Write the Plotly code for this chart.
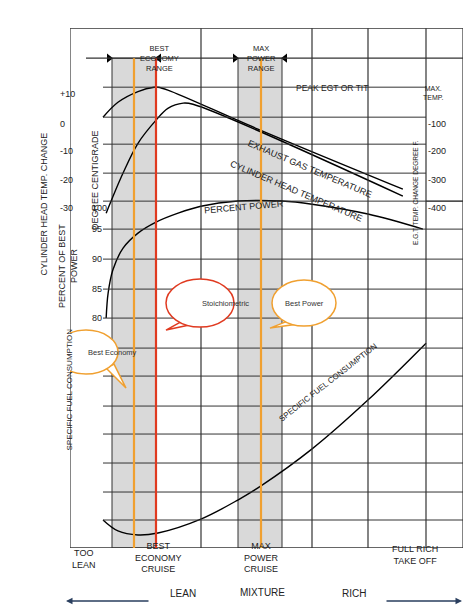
import plotly.graph_objects as go

# Mixture axis: 0 = too lean, 100 = full rich. Vertical axis: grid rows (0 bottom .. 18 top)
egt_x = [8.4, 12.2, 17.3, 21.4, 22.4, 24.9, 47.8, 84.7]
egt_y = [14.91, 15.43, 15.80, 15.95, 15.95, 15.85, 14.50, 12.42]
cht_x = [9.2, 13.5, 17.3, 21.9, 24.9, 28.8, 31.3, 84.7]
cht_y = [11.59, 12.98, 14.01, 14.81, 15.22, 15.40, 15.36, 12.18]
pwr_x = [9.2, 9.7, 10.9, 13.5, 17.3, 21.9, 27.5, 33.3, 42.7, 53.9, 61.6, 75.8, 89.8]
pwr_y = [7.96, 8.82, 9.62, 10.38, 10.90, 11.28, 11.59, 11.83, 12.01, 12.01, 11.90, 11.56, 11.04]
sfc_x = [8.4, 12.2, 17.3, 22.4, 33.3, 42.7, 48.6, 61.6, 75.8, 90.6]
sfc_y = [0.97, 0.59, 0.45, 0.52, 1.00, 1.66, 2.15, 3.43, 5.12, 7.09]

cht_ticks = ["+10", "0", "-10", "-20", "-30"]
pwr_ticks = ["100", "95", "90", "85", "80"]
egt_ticks = ["-100", "-200", "-300", "-400"]


def X(px):
    return (px - 62) / 3.93


def Y(py):
    return (540 - py) / 28.9


def PX(px):
    return (px - 62) / 393


def PY(py):
    return (540 - py) / 520


GRID = "#333333"
fig = go.Figure()

# shaded ranges
for a, b in [(104, 148), (230, 274)]:
    fig.add_shape(type="rect", x0=X(a), x1=X(b), y0=0, y1=Y(50),
                  fillcolor="#d9d9d9", line=dict(color=GRID, width=1), layer="below")

# vertical grid
for px in [62, 193, 304, 360, 418, 455]:
    fig.add_shape(type="line", x0=X(px), x1=X(px), y0=0, y1=Y(20), line=dict(color=GRID, width=1.2))
# horizontal grid
rows = [79, 109, 136, 165, 193, 221, 251, 281, 310, 340, 368, 398, 426, 455, 484, 512]
for py in rows:
    x1 = X(418) if py < 193 else X(455)
    fig.add_shape(type="line", x0=X(95), x1=x1, y0=Y(py), y1=Y(py), line=dict(color=GRID, width=1))
fig.add_shape(type="line", x0=X(418), x1=X(455), y0=Y(193), y1=Y(193), line=dict(color=GRID, width=1))
fig.add_shape(type="line", x0=X(62), x1=X(455), y0=Y(20), y1=Y(20), line=dict(color=GRID, width=1.2))
fig.add_shape(type="line", x0=X(62), x1=X(455), y0=0, y1=0, line=dict(color=GRID, width=1.5))
fig.add_shape(type="line", x0=X(78), x1=X(455), y0=Y(50), y1=Y(50), line=dict(color=GRID, width=1.2))

# orange / red markers
for px, c in [(126, "#f0a030"), (253, "#f0a030"), (148, "#e03a20")]:
    fig.add_shape(type="line", x0=X(px), x1=X(px), y0=0, y1=Y(50), line=dict(color=c, width=2.2))

# range arrows
fig.add_trace(go.Scatter(x=[X(101), X(227)], y=[Y(50)] * 2, mode="markers",
                         marker=dict(symbol="triangle-right", size=8, color="black"),
                         showlegend=False, hoverinfo="skip"))
fig.add_trace(go.Scatter(x=[X(151), X(277)], y=[Y(50)] * 2, mode="markers",
                         marker=dict(symbol="triangle-left", size=8, color="black"),
                         showlegend=False, hoverinfo="skip"))

for xs, ys in [(egt_x, egt_y), (cht_x, cht_y), (pwr_x, pwr_y), (sfc_x, sfc_y)]:
    fig.add_trace(go.Scatter(x=xs, y=ys, mode="lines", line=dict(color="black", width=1.4, shape="spline"),
                             showlegend=False, hoverinfo="skip"))


def txt(px, py, s, size=9, angle=0, color="#222", align="center"):
    fig.add_annotation(x=PX(px), y=PY(py), xref="paper", yref="paper", text=s, showarrow=False,
                       textangle=angle, align=align,
                       font=dict(size=size, color=color, family="Liberation Sans"))


for s, py in zip(cht_ticks, [79, 109, 136, 165, 193]):
    txt(50, py, s, 9)
for s, py in zip(pwr_ticks, [193, 221, 251, 281, 310]):
    txt(82, py, s, 9)
for s, py in zip(egt_ticks, [109, 136, 165, 193]):
    txt(440, py, s, 9)
txt(438, 75, "MAX.<br>TEMP.", 7)
txt(28, 123, "CYLINDER HEAD TEMP. CHANGE", 9, -90)
txt(80, 120, "DEGREE CENTIGRADE", 9, -90)
txt(47, 258, "PERCENT OF BEST<br>POWER", 9, -90)
txt(54, 445, "SPECIFIC FUEL CONSUMPTION", 8, -90)
txt(413, 130, "E.G.T. TEMP. CHANGE DEGREE F.", 6.5, -90)
txt(130, 34, "BEST<br>ECONOMY<br>RANGE", 7.5)
txt(253, 34, "MAX<br>POWER<br>RANGE", 7.5)
txt(362, 73, "PEAK EGT OR TIT", 8.5)
txt(302, 128, "EXHAUST GAS TEMPERATURE", 9, 23)
txt(288, 148, "CYLINDER HEAD TEMPERATURE", 9, 23)
txt(236, 188, "PERCENT POWER", 9, -5)
txt(320, 418, "SPECIFIC FUEL CONSUMPTION", 8, -38)
txt(62, 564, "TOO<br>LEAN", 9)
txt(125, 568, "BEST<br>ECONOMY<br>CRUISE", 9)
txt(253, 568, "MAX<br>POWER<br>CRUISE", 9)
txt(432, 560, "FULL RICH<br>TAKE OFF", 9)
txt(160, 593, "LEAN", 10)
txt(254, 592, "MIXTURE", 10)
txt(360, 593, "RICH", 10)
fig.add_annotation(x=PX(58), y=PY(593), xref="paper", yref="paper", ax=84, ay=0, text="",
                   showarrow=True, arrowhead=2, arrowwidth=1.3)
fig.add_annotation(x=PX(454), y=PY(593), xref="paper", yref="paper", ax=-77, ay=0, text="",
                   showarrow=True, arrowhead=2, arrowwidth=1.3)

# speech bubbles
for cx, cy, rx, ry, tail, col, label in [
        (192, 295, 34, 24, [(176, 312), (158, 322), (186, 316)], "#e03a20", "Stoichiometric"),
        (296, 295, 32, 23, [(282, 312), (262, 320), (290, 316)], "#f0a030", "Best Power"),
        (78, 344, 32, 22, [(98, 360), (118, 380), (106, 356)], "#f0a030", "Best Economy")]:
    path = "M {} {} L {} {} L {} {} Z".format(*[v for p in tail for v in (X(p[0]), Y(p[1]))])
    fig.add_shape(type="path", path=path, fillcolor="white", line=dict(color=col, width=1.5))
    fig.add_shape(type="circle", x0=X(cx - rx), x1=X(cx + rx), y0=Y(cy + ry), y1=Y(cy - ry),
                  fillcolor="white", line=dict(color=col, width=1.5))
    txt(cx, cy, label, 7.5, color="#333")

fig.update_xaxes(range=[0, 100], visible=False)
fig.update_yaxes(range=[0, 18], visible=False)
fig.update_layout(width=474, height=616, margin=dict(l=62, r=19, t=20, b=76),
                  plot_bgcolor="white", paper_bgcolor="white")
fig.write_html("out.html")
